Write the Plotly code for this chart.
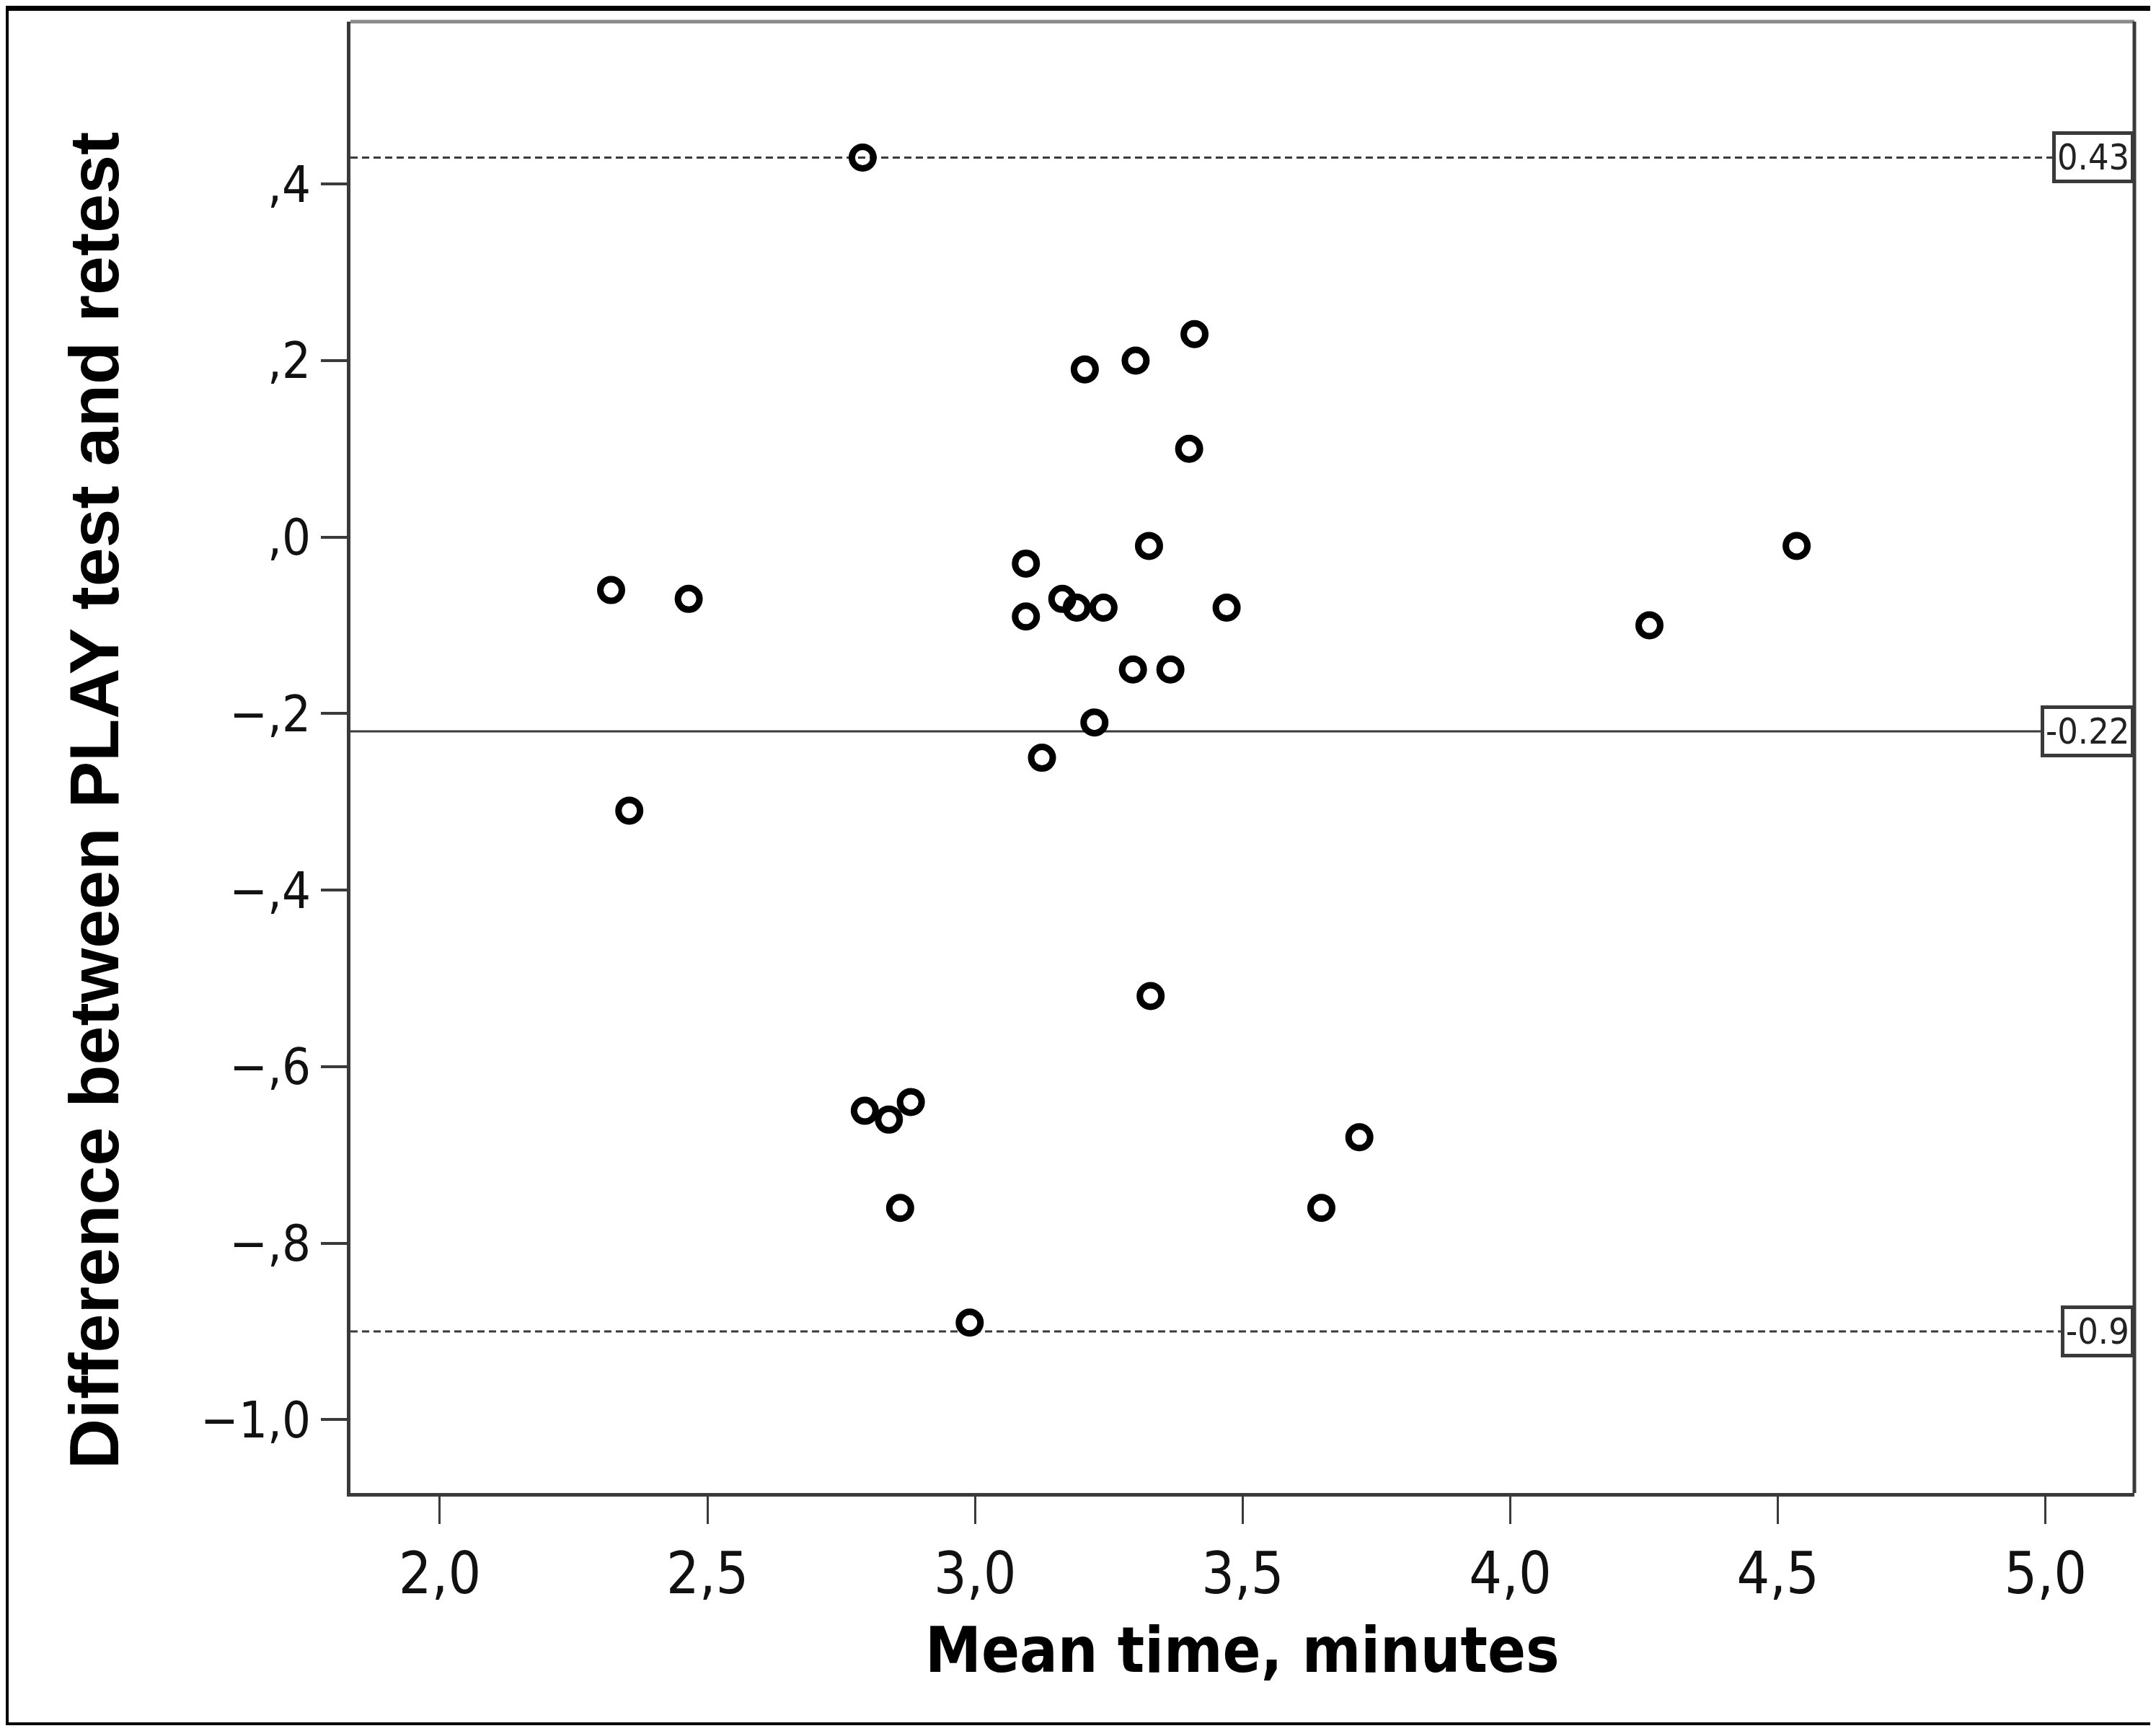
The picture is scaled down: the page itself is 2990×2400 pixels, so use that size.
import plotly.graph_objects as go

# Bland-Altman style: mean time vs difference test/retest
mean_time = [2.79, 3.41, 3.30, 3.205, 3.40, 4.535, 3.325, 3.095, 2.32, 2.465,
             3.163, 3.095, 3.19, 3.24, 3.47, 4.26, 3.295, 3.365, 3.223, 3.125,
             2.354, 3.328, 2.794, 2.839, 2.88, 3.718, 2.86, 3.647, 2.99]
difference = [0.43, 0.23, 0.20, 0.19, 0.10, -0.01, -0.01, -0.03, -0.06, -0.07,
              -0.07, -0.09, -0.08, -0.08, -0.08, -0.10, -0.15, -0.15, -0.21, -0.25,
              -0.31, -0.52, -0.65, -0.66, -0.64, -0.68, -0.76, -0.76, -0.89]

line_values = [0.43, -0.22, -0.9]
line_labels = ["0.43", "-0.22", "-0.9"]
line_dash = ["10px,6px", "solid", "10px,6px"]

x_ticks = [2.0, 2.5, 3.0, 3.5, 4.0, 4.5, 5.0]
x_ticktext = ["2,0", "2,5", "3,0", "3,5", "4,0", "4,5", "5,0"]
y_ticks = [-1.0, -0.8, -0.6, -0.4, -0.2, 0.0, 0.2, 0.4]
y_ticktext = ["\u22121,0", "\u2212,8", "\u2212,6", "\u2212,4", "\u2212,2", ",0", ",2", ",4"]

# page body adds an 8px margin, so the figure is a bit smaller than the window
OFF = 8
W, H = 2990 - 2 * OFF, 2400 - 2 * OFF
ML, MT = 486 - OFF, 30 - OFF
MR = W - (2960 - OFF)
MB = H - (2070 - OFF)
PW, PH = W - ML - MR, H - MT - MB

cond = "DejaVu Sans Condensed, Liberation Sans Narrow, sans-serif"
dark = "#3a3a3a"

fig = go.Figure()
fig.add_trace(go.Scatter(
    x=mean_time, y=difference, mode="markers",
    marker=dict(symbol="circle-open", size=30, color="black", line=dict(width=9)),
    hoverinfo="skip", showlegend=False,
))

shapes = []
annotations = []
for v, lab, d in zip(line_values, line_labels, line_dash):
    shapes.append(dict(type="line", xref="paper", yref="y", x0=0, x1=1, y0=v, y1=v,
                       line=dict(color=dark, width=3, dash=d), layer="below"))
    annotations.append(dict(x=1, xref="paper", y=v, yref="y", text=lab,
                            xanchor="right", yanchor="middle", showarrow=False,
                            font=dict(family=cond, size=50, color="#222"),
                            bgcolor="white", bordercolor=dark, borderwidth=5, borderpad=2))

# top (gray) and right frame lines
shapes.append(dict(type="line", xref="paper", yref="paper", x0=0, x1=1, y0=1, y1=1,
                   line=dict(color="#8a8a8a", width=5)))
shapes.append(dict(type="line", xref="paper", yref="paper", x0=1, x1=1, y0=0, y1=1,
                   line=dict(color=dark, width=5)))


# screen pixel -> paper coordinate
def px_x(p):
    return (p - OFF - ML) / PW


def px_y(p):
    return (H - MB - (p - OFF)) / PH


# black picture frame (top, left, bottom)
shapes.append(dict(type="rect", xref="paper", yref="paper", x0=px_x(OFF), x1=px_x(OFF + W),
                   y0=px_y(OFF + 7), y1=px_y(OFF), fillcolor="black", line=dict(width=0)))
shapes.append(dict(type="rect", xref="paper", yref="paper", x0=px_x(OFF), x1=px_x(OFF + 4),
                   y0=px_y(OFF + H), y1=px_y(OFF), fillcolor="black", line=dict(width=0)))
shapes.append(dict(type="rect", xref="paper", yref="paper", x0=px_x(OFF), x1=px_x(OFF + W),
                   y0=px_y(OFF + H), y1=px_y(OFF + H - 4), fillcolor="black", line=dict(width=0)))

annotations.append(dict(x=px_x(130), y=px_y(1110), xref="paper", yref="paper",
                        text="<b>Difference between PLAY test and retest</b>",
                        textangle=-90, showarrow=False, xanchor="center", yanchor="middle",
                        font=dict(family="Liberation Sans, Arial, sans-serif", size=97, color="black")))
annotations.append(dict(x=0.5, y=px_y(2288), xref="paper", yref="paper",
                        text="<b>Mean time, minutes</b>", showarrow=False,
                        xanchor="center", yanchor="middle",
                        font=dict(family=cond, size=87, color="black")))

fig.update_layout(
    width=W, height=H,
    margin=dict(l=ML, r=MR, t=MT, b=MB),
    paper_bgcolor="white", plot_bgcolor="white",
    shapes=shapes, annotations=annotations,
    xaxis=dict(range=[1.833, 5.166], tickvals=x_ticks, ticktext=x_ticktext,
               ticks="outside", ticklen=38, tickwidth=3, tickcolor=dark,
               showline=True, linecolor=dark, linewidth=5, showgrid=False, zeroline=False,
               tickfont=dict(family=cond, size=80, color="#111")),
    yaxis=dict(range=[-1.083, 0.584], tickvals=y_ticks, ticktext=y_ticktext,
               ticks="outside", ticklen=36, tickwidth=4, tickcolor=dark,
               showline=True, linecolor=dark, linewidth=5, showgrid=False, zeroline=False,
               tickfont=dict(family=cond, size=70, color="#111")),
)

fig.write_html("out.html")
